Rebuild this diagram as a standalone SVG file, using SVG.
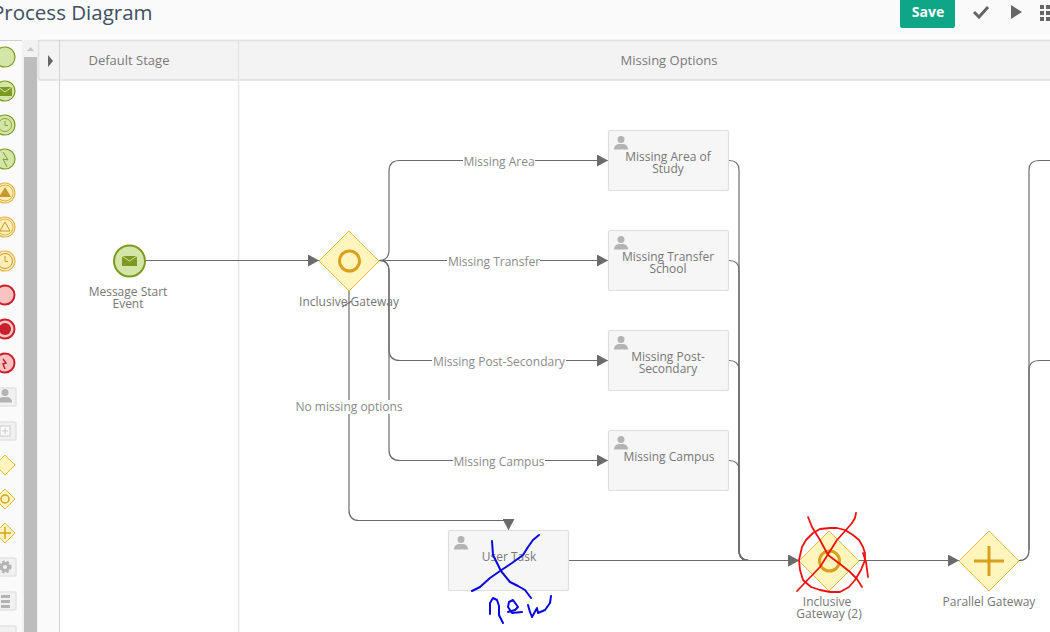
<svg xmlns="http://www.w3.org/2000/svg" width="1050" height="632" viewBox="0 0 1050 632">
<style>
text{font-family:"Open Sans","Liberation Sans",sans-serif;font-size:12px;fill:#767676;text-anchor:middle}
.h{font-size:13px;fill:#7a7a7a}
.lb{font-size:12px;fill:#8a8a8a}
.c{fill:none;stroke:#6b6b6b;stroke-width:1.2}
.task{fill:#f6f6f6;stroke:#dedede;stroke-width:1.2}
.gw{fill:#fff5bd;stroke:#e6b84c;stroke-width:1}
.gi{fill:none;stroke:#d8a01e;stroke-width:3}
.ev{fill:#d3e6a8;stroke:#7d9a20;stroke-width:1.2}
.y{fill:#fdeeb5;stroke:#e2b24a;stroke-width:1.2}
.r{fill:#fbc2c2;stroke:#c8202c;stroke-width:2}
.t{fill:#f1f1f1;stroke:#e4e4e4;stroke-width:1.5}
.p{fill:#b3b3b3}
.red{fill:none;stroke:#f01010;stroke-width:1.8;stroke-linecap:round;stroke-linejoin:round}
.blue{fill:none;stroke:#0808e0;stroke-width:2;stroke-linecap:round;stroke-linejoin:round}
</style>
<defs>
<marker id="a" markerUnits="userSpaceOnUse" markerWidth="11" markerHeight="12" refX="11" refY="6" orient="auto"><path d="M0 0L11 6L0 12Z" fill="#6b6b6b"/></marker>
<g id="person"><circle cx="0" cy="-3.500" r="3.500" class="p"/><path d="M-7 6.500Q-7 1.500-2 1H2Q7 1.500 7 6.500Z" class="p"/></g>
</defs>
<rect width="1050" height="632" fill="#fafafa"/>
<g id="header">
<text x="-8" y="20" style="font-size:20.500px;fill:#3d4f60;text-anchor:start">Process Diagram</text>
<rect x="900" y="-4" width="55" height="32" rx="2" fill="#0fa688"/>
<text x="928" y="17" style="font-size:14px;font-weight:700;fill:#fff">Save</text>
<path d="M974 12L979 17L988 7" fill="none" stroke="#666" stroke-width="3"/>
<path d="M1011 5L1022 12L1011 19Z" fill="#666"/>
<path d="M1040 5h4v4h-4zM1046 5h4v4h-4zM1040 11h4v4h-4zM1046 11h4v4h-4zM1040 17h4v4h-4zM1046 17h4v4h-4z" fill="#666"/>
<rect x="0" y="40" width="1050" height="1" fill="#d0d0d0"/>
</g>
<g id="palette">
<circle cx="5" cy="57" r="10" class="ev"/>
<circle cx="5" cy="91" r="10" class="ev"/><path d="M-2 87h14v9h-14z" fill="#7d9a20"/><path d="M-2 87L5 92L12 87" fill="none" stroke="#d3e6a8"/>
<circle cx="5" cy="125" r="10" class="ev"/><circle cx="5" cy="125" r="6.500" fill="none" stroke="#8aa52e"/><path d="M5 121v4.500h3" fill="none" stroke="#8aa52e"/>
<circle cx="5" cy="159" r="10" class="ev"/><path d="M3 152L8 160L3 159L7 167" fill="none" stroke="#7d9a20"/>
<circle cx="5" cy="193" r="10" class="y"/><circle cx="5" cy="193" r="8" fill="none" stroke="#e2b24a"/><path d="M5 187L11 197H-1Z" fill="#c9982c"/>
<circle cx="5" cy="227" r="10" class="y"/><circle cx="5" cy="227" r="8" fill="none" stroke="#e2b24a"/><path d="M5 222L10 231H0Z" fill="none" stroke="#c9982c"/>
<circle cx="5" cy="261" r="10" class="y"/><circle cx="5" cy="261" r="7.500" fill="none" stroke="#c9982c"/><path d="M5 256v5.500h3" fill="none" stroke="#c9982c"/>
<circle cx="5" cy="295" r="9.500" class="r"/>
<circle cx="5" cy="329" r="9.500" class="r"/><circle cx="5" cy="329" r="6" fill="#c8202c"/>
<circle cx="5" cy="363" r="9.500" class="r"/><path d="M3 359L6 363L3 364L5 369" fill="none" stroke="#c8202c" stroke-width="1.500"/>
<rect x="-10" y="388" width="26" height="18" rx="2" class="t"/><use href="#person" x="5" y="396"/>
<rect x="-10" y="422" width="26" height="18" rx="2" class="t"/><rect x="0" y="426" width="10" height="10" fill="#fafafa" stroke="#ccc"/><path d="M5 428v6M2 431h6" stroke="#ccc"/>
<path d="M5 455L15 465L5 475L-5 465Z" class="gw"/>
<path d="M5 489L15 499L5 509L-5 499Z" class="gw"/><circle cx="5" cy="499" r="4" fill="none" stroke="#d8a01e" stroke-width="1.500"/>
<path d="M5 523L15 533L5 543L-5 533Z" class="gw"/><path d="M5 527v12M-1 533h12" stroke="#d8a01e" stroke-width="1.500"/>
<rect x="-10" y="558" width="26" height="18" rx="2" class="t"/><circle cx="5" cy="567" r="3.500" fill="none" stroke="#b3b3b3" stroke-width="3"/><circle cx="5" cy="567" r="5.500" fill="none" stroke="#b3b3b3" stroke-width="2" stroke-dasharray="2.500 2"/>
<rect x="-10" y="592" width="26" height="18" rx="2" class="t"/><path d="M1 595h9v3h-9zM1 600h9v3h-9zM1 605h9v3h-9z" fill="#b3b3b3"/>
<rect x="-10" y="626" width="26" height="18" rx="2" class="t"/>
</g>
<g id="scroll">
<rect x="22" y="40" width="16" height="592" fill="#f2f2f2"/>
<rect x="24" y="57" width="13" height="575" fill="#bdbdbd"/>
<path d="M30.500 47L34 51H27Z" fill="#c4c4c4"/>
</g>
<g id="canvas">
<rect x="60" y="80" width="990" height="552" fill="#fff"/>
<rect x="38.500" y="40.500" width="1020" height="39.500" rx="2" fill="#f3f3f3" stroke="#e0e0e0" stroke-width="1.500"/>
<path d="M59.500 40V632" stroke="#d2d2d2" fill="none"/>
<path d="M238.500 40V632" stroke="#e6e6e6" fill="none" stroke-width="1.500"/>
<path d="M48 55L53 61L48 67Z" fill="#666"/>
<text class="h" x="129" y="65">Default Stage</text>
<text class="h" x="669" y="65">Missing Options</text>
</g>
<g id="connectors">
<path class="c" d="M146 260.500H319" marker-end="url(#a)"/>
<path class="c" d="M379 260.500Q389 260.500 389 250V171Q389 160.500 400 160.500H608" marker-end="url(#a)"/>
<path class="c" d="M379 260.500H608" marker-end="url(#a)"/>
<path class="c" d="M379 260.500Q389 260.500 389 271V350Q389 360.500 400 360.500H608" marker-end="url(#a)"/>
<path class="c" d="M379 260.500Q389 260.500 389 271V450Q389 460.500 400 460.500H608" marker-end="url(#a)"/>
<path class="c" d="M349 291V510Q349 520.500 359 520.500H508.500V530" marker-end="url(#a)"/>
<path class="c" d="M729 160.500Q739 160.500 739 170V550Q739 560.500 749 560.500H799" marker-end="url(#a)"/>
<path class="c" d="M729 260.500Q739 260.500 739 270V550Q739 560.500 749 560.500"/>
<path class="c" d="M729 360.500Q739 360.500 739 370V550Q739 560.500 749 560.500"/>
<path class="c" d="M729 460.500Q739 460.500 739 470V550Q739 560.500 749 560.500"/>
<path class="c" d="M569 560.500H799" marker-end="url(#a)"/>
<path class="c" d="M859 560.500H959" marker-end="url(#a)"/>
<path class="c" d="M1019 560.500Q1029 560.500 1029 550V170Q1029 160.500 1039 160.500H1050"/>
<path class="c" d="M1029 550V370Q1029 360.500 1039 360.500H1050"/>
<path class="c" d="M342 307L352 301"/>
<g>
<rect x="463" y="154" width="72" height="14" fill="#fff"/><text class="lb" x="499" y="166">Missing Area</text>
<rect x="447" y="254" width="93" height="14" fill="#fff"/><text class="lb" x="494" y="266">Missing Transfer</text>
<rect x="432" y="354" width="134" height="14" fill="#fff"/><text class="lb" x="499" y="366">Missing Post-Secondary</text>
<rect x="453" y="454" width="92" height="14" fill="#fff"/><text class="lb" x="499" y="466">Missing Campus</text>
<rect x="295" y="400" width="108" height="14" fill="#fff"/><text class="lb" x="349" y="411">No missing options</text>
</g>
</g>
<g id="start"><circle cx="129.500" cy="261" r="15.500" fill="#d3e6a8" stroke="#7d9a20" stroke-width="2"/><path d="M122 256h15v10h-15z" fill="#7d9a20"/><path d="M122 256L129.500 261L137 256" fill="none" stroke="#d3e6a8"/><text x="128" y="296">Message Start</text><text x="128" y="308">Event</text></g>
<g id="gateway1"><path d="M349 231L379 261L349 291L319 261Z" class="gw"/><circle cx="349.500" cy="261" r="10" class="gi"/><text x="349" y="306">Inclusive Gateway</text></g>
<g id="task1"><rect x="608.500" y="130.500" width="120" height="60" rx="2" class="task"/><use href="#person" x="621" y="143"/><text x="668" y="161">Missing Area of</text><text x="668" y="173">Study</text></g>
<g id="task2"><rect x="608.500" y="230.500" width="120" height="60" rx="2" class="task"/><use href="#person" x="621" y="243"/><text x="668" y="261">Missing Transfer</text><text x="668" y="273">School</text></g>
<g id="task3"><rect x="608.500" y="330.500" width="120" height="60" rx="2" class="task"/><use href="#person" x="621" y="343"/><text x="668" y="361">Missing Post-</text><text x="668" y="373">Secondary</text></g>
<g id="task4"><rect x="608.500" y="430.500" width="120" height="60" rx="2" class="task"/><use href="#person" x="621" y="443"/><text x="669" y="461">Missing Campus</text></g>
<g id="task5"><rect x="448.500" y="530.500" width="120" height="60" rx="2" class="task"/><use href="#person" x="461" y="543"/><text x="509" y="561">User Task</text></g>
<g id="gateway2"><path d="M829 531L859 561L829 591L799 561Z" class="gw"/><circle cx="829.500" cy="561" r="10" class="gi"/><text x="827" y="606">Inclusive</text><text x="829" y="618">Gateway (2)</text></g>
<g id="gateway3"><path d="M989 531L1019 561L989 591L959 561Z" class="gw"/><path d="M989 546V576M974 561H1004" class="gi"/><text x="989" y="606">Parallel Gateway</text></g>
<g id="scribbles">
<path class="red" d="M797 591L820 567L837 540L846 530L852 523L855 518L856 513"/>
<path class="red" d="M808 517L812 527L820 540L828 555L840 564L850 572L857 579L862 587"/>
<path class="red" d="M863 553L866 562L868 577"/>
<path class="red" d="M830 528L820 529L813 533L806 540L802 547L799 560L800 570L803 580L811 587L820 590L830 592L840 592L849 587L855 580L861 570L865 560L865 553L863 547L859 540L853 535L845 530L837 528Z"/>
<path class="blue" d="M472 591L480 587L490 578L500 571L512 563L523 555L528 547L533 540L539 535"/>
<path class="blue" d="M492 541L493 555L501 571L510 582L518 586L525 590L531 598"/>
<path class="blue" d="M490 614L490 603L493 598L497 600L499 606L499 615L503 623"/>
<path class="blue" d="M508 612L515 610L518 607L513 600L509 602L508 607L512 613L522 612"/>
<path class="blue" d="M528 605L530 612L532 617L537 608L538 613L545 610L550 603L551 596"/>
</g>
</svg>
